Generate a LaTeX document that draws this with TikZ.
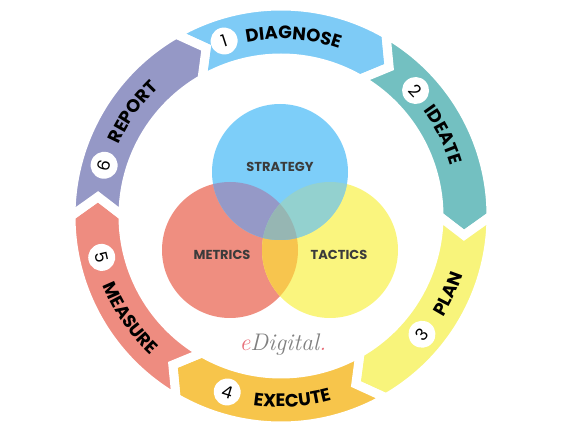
\documentclass[tikz,border=0pt]{standalone}
\usepackage{fontspec}
\usepackage{tikz}
\usetikzlibrary{calc}
\usetikzlibrary{decorations.text}

\newfontfamily\lblfont{Poppins}
\newcommand{\ringfont}{\lblfont\bfseries\fontsize{18}{18}\selectfont}

\definecolor{cdiag}{HTML}{7ECBF6}
\definecolor{cidea}{HTML}{73C0C1}
\definecolor{cplan}{HTML}{F8F47B}
\definecolor{cexec}{HTML}{F7C54B}
\definecolor{cmeas}{HTML}{EE8C80}
\definecolor{crepo}{HTML}{9598C6}
\definecolor{vblue}{HTML}{7DCEF9}
\definecolor{vred}{HTML}{EF8E80}
\definecolor{vyellow}{HTML}{FAF57E}
\definecolor{vorange}{HTML}{F7C54E}
\definecolor{vpurple}{HTML}{9599C7}
\definecolor{vteal}{HTML}{93D1CF}
\definecolor{vgrey}{HTML}{96B6B3}
\definecolor{vtext}{HTML}{3B3B3B}
\definecolor{logored}{HTML}{E8707A}

\begin{document}
\begin{tikzpicture}[x=1pt, y=1pt,
    seg/.style={fill=#1, draw=white, line width=9pt},
    numdot/.style={shape=circle, fill=white, inner sep=0pt, minimum size=27pt, font=\lblfont\fontsize{17}{17}\selectfont},
    venn/.style={font=\lblfont\bfseries\fontsize{13}{13}\selectfont, text=vtext}]
    \useasboundingbox (0,0) rectangle (566,440);
    \coordinate (O) at (281,224);
    % ring of six arrows
    \begin{scope}[shift={(O)}]
        \foreach \s/\c in {120/cdiag, 60/cidea, 0/cplan, -60/cexec, -120/cmeas, 180/crepo} {
            \pgfmathsetmacro{\e}{\s-60}
            \fill[seg=\c] (\s:210) arc[start angle=\s, end angle=\e, radius=210pt] -- (\e-6:184)
                -- (\e:158) arc[start angle=\e, end angle=\s, radius=158pt] -- (\s-6:184) -- cycle;
        }
        \node (n1) at (108:184) [numdot, rotate=18] {1};
        \node (n2) at (43:184) [numdot, rotate=-47] {2};
        \node (n3) at (-40:184) [numdot, rotate=50] {3};
        \node (n4) at (-107:184) [numdot, rotate=-17] {4};
        \node (n5) at (193:184) [numdot, rotate=-77] {5};
        \node (n6) at (164:184) [numdot, rotate=74] {6};
        \path[decorate, decoration={text along path, text align=center, text={|\ringfont|DIAGNOSE}}]
            (116:177) arc[start angle=116, end angle=56, radius=177pt];
        \path[decorate, decoration={text along path, text align=center, text={|\ringfont|IDEATE}}]
            (56.5:177) arc[start angle=56.5, end angle=-3.5, radius=177pt];
        \path[decorate, decoration={text along path, text align=center, text={|\ringfont|PLAN}}]
            (-55:191) arc[start angle=-55, end angle=5, radius=191pt];
        \path[decorate, decoration={text along path, text align=center, text={|\ringfont|EXECUTE}}]
            (-116.5:191) arc[start angle=-116.5, end angle=-56.5, radius=191pt];
        \path[decorate, decoration={text along path, text align=center, text={|\ringfont|MEASURE}}]
            (184:191) arc[start angle=184, end angle=244, radius=191pt];
        \path[decorate, decoration={text along path, text align=center, text={|\ringfont|REPORT}}]
            (175:177) arc[start angle=175, end angle=115, radius=177pt];
    \end{scope}
    % venn
    \coordinate (cs) at (280,268);
    \coordinate (cm) at (230,190);
    \coordinate (ct) at (330,190);
    \fill[vred] (cm) circle (68pt);
    \fill[vyellow] (ct) circle (68pt);
    \fill[vblue] (cs) circle (68pt);
    \begin{scope} \clip (cm) circle (68pt); \fill[vorange] (ct) circle (68pt); \end{scope}
    \begin{scope} \clip (cm) circle (68pt); \fill[vpurple] (cs) circle (68pt); \end{scope}
    \begin{scope} \clip (ct) circle (68pt); \fill[vteal] (cs) circle (68pt); \end{scope}
    \begin{scope} \clip (cm) circle (68pt); \clip (ct) circle (68pt); \fill[vgrey] (cs) circle (68pt); \end{scope}
    \node (strategy) at (280,273) [venn] {STRATEGY};
    \node (metrics) at (222,185) [venn] {METRICS};
    \node (tactics) at (339,185) [venn] {TACTICS};
    \node (logo) at (283,95) [font=\itshape\fontsize{24}{24}\selectfont] {\textcolor{logored}{e}\textcolor{gray}{Digital}\textcolor{logored}{.}};
\end{tikzpicture}
\end{document}
